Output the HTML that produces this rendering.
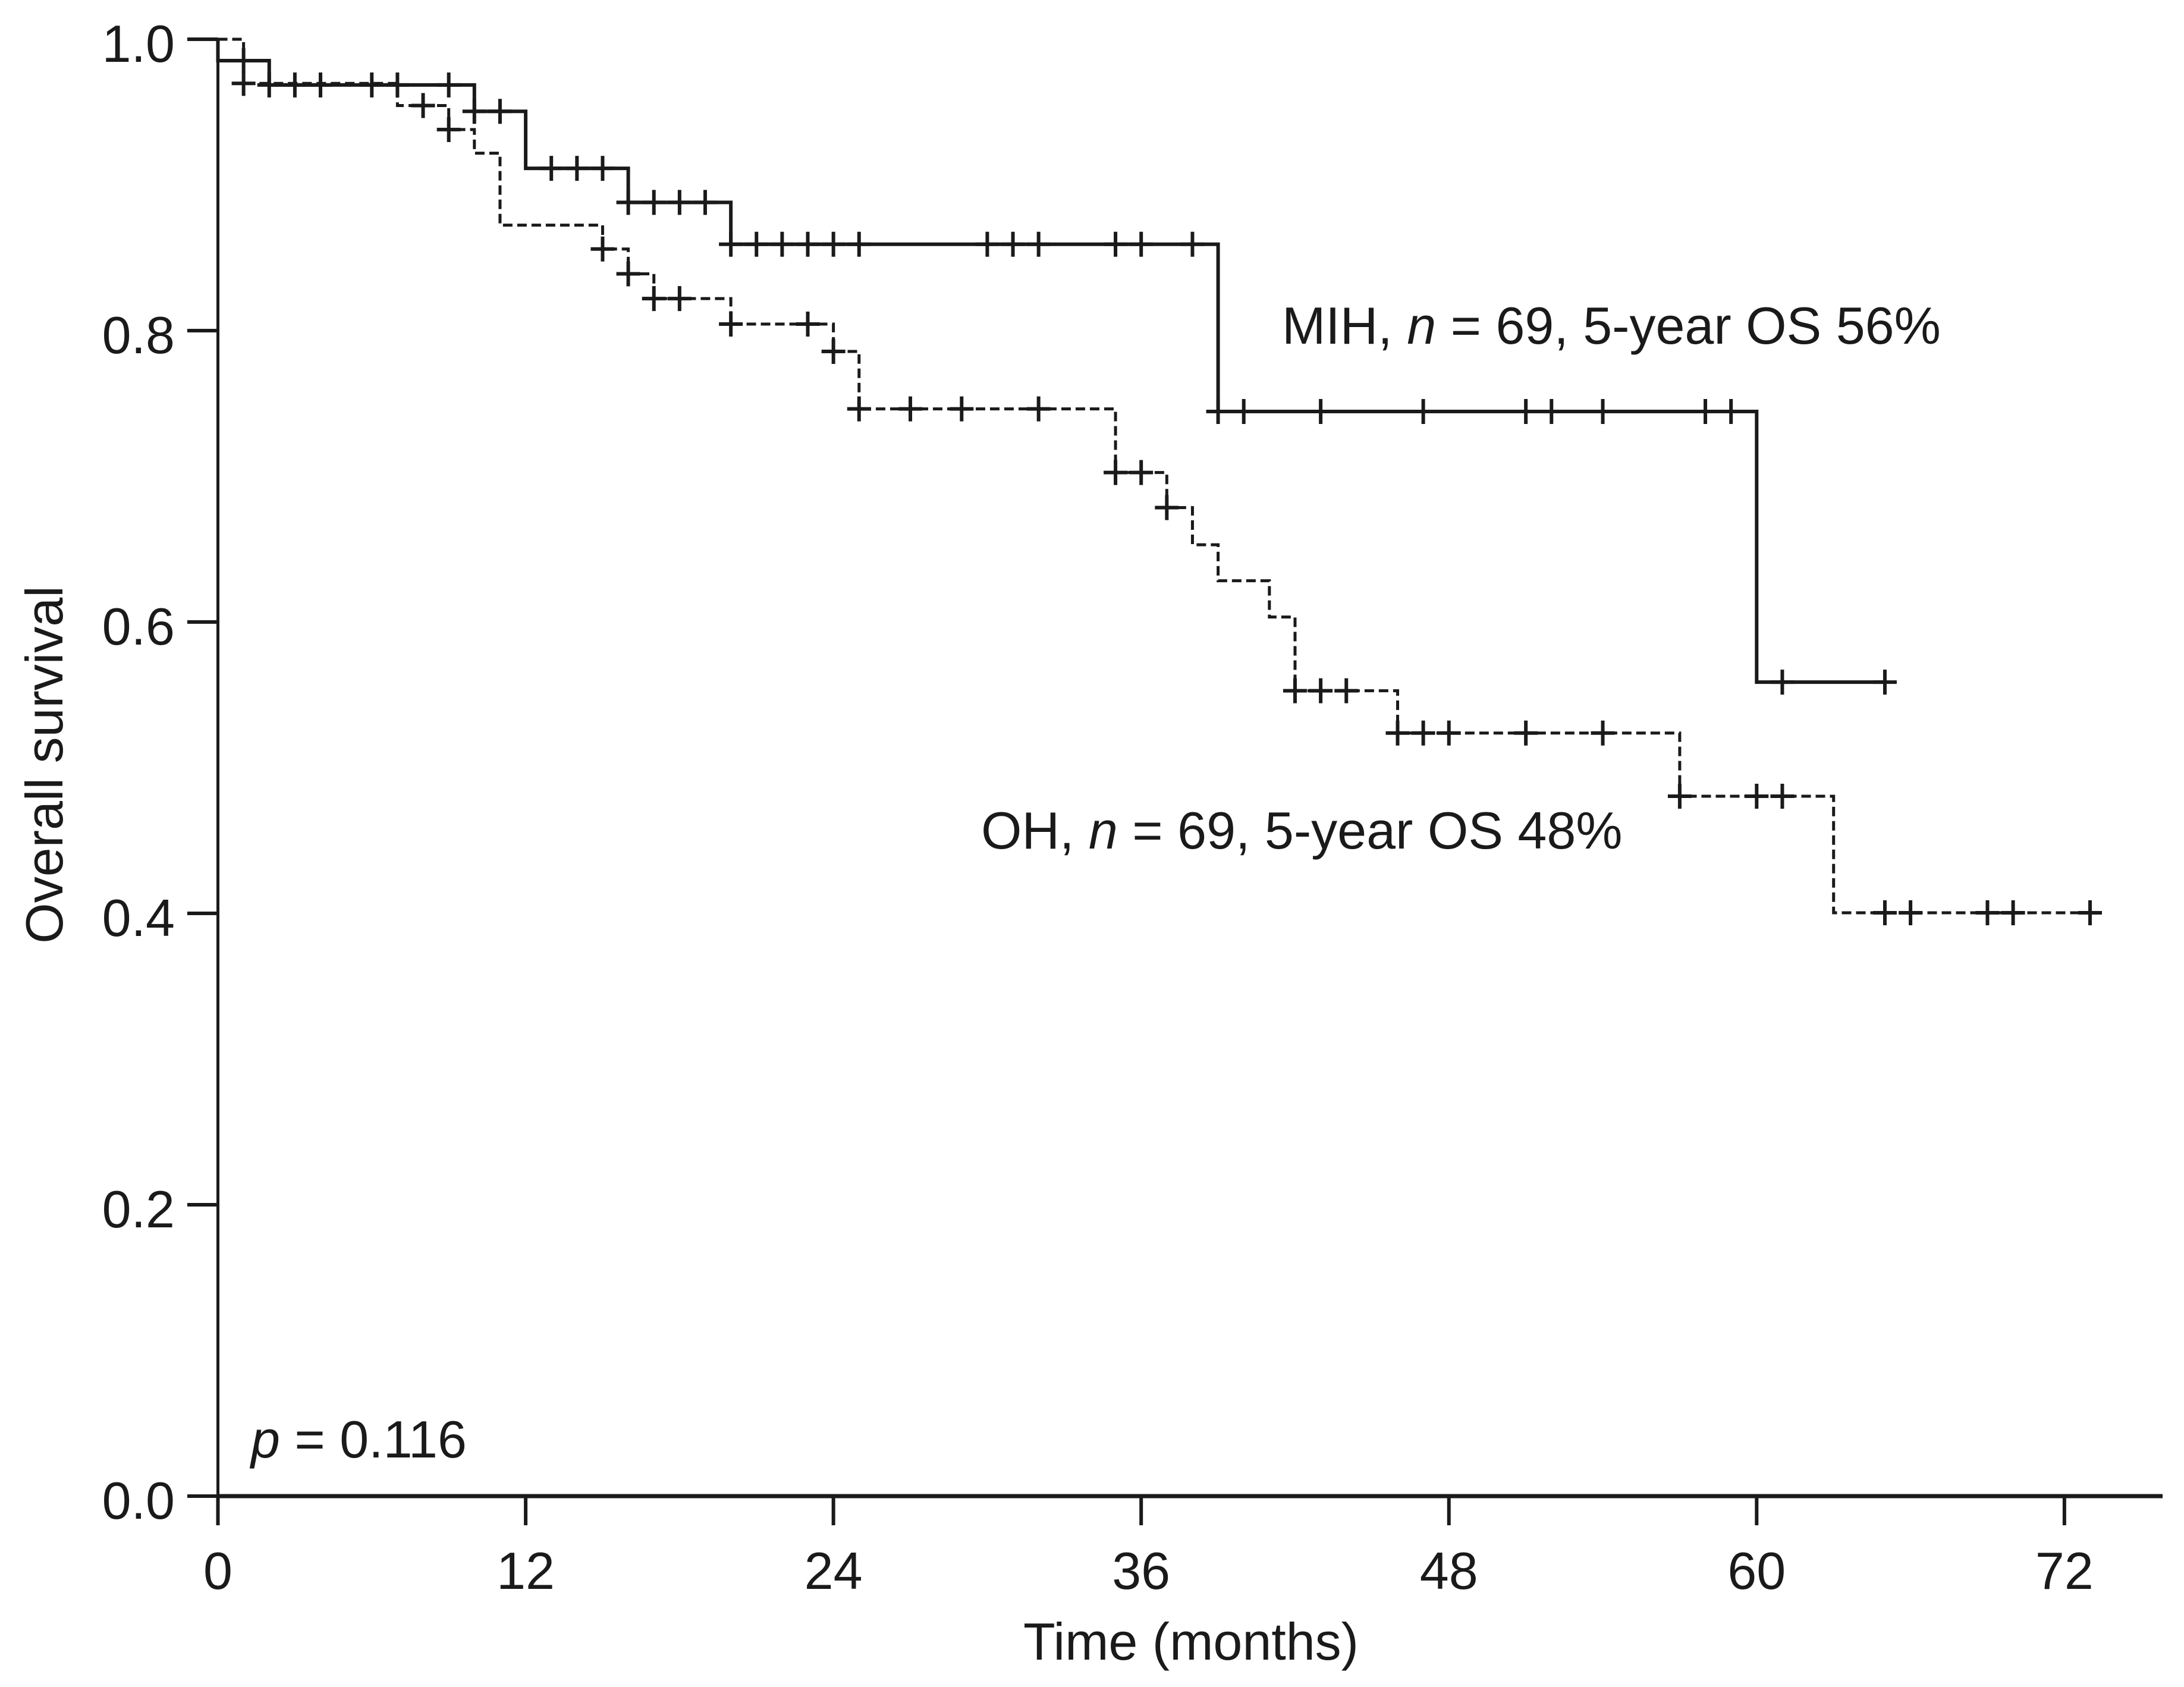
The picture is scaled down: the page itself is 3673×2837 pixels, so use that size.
<!DOCTYPE html>
<html lang="en">
<head>
<meta charset="utf-8">
<title>Overall survival Kaplan-Meier chart</title>
<style>
html,body{margin:0;padding:0;background:#fff;}
svg{display:block;}
text{font-family:"Liberation Sans",sans-serif;font-size:88px;fill:#1a1a1a;}
</style>
</head>
<body>
<svg id="chart" xmlns="http://www.w3.org/2000/svg" width="3673" height="2837" viewBox="0 0 3673 2837">
  <rect width="3673" height="2837" fill="#fff"/>
  <g id="axes"></g>
  <g id="series"></g>
  <text transform="translate(105,1286) rotate(-90)" text-anchor="middle">Overall survival</text>
  <text x="2003" y="2791" text-anchor="middle">Time (months)</text>
  <text x="2156" y="578">MIH, <tspan font-style="italic">n</tspan> = 69, 5-year OS 56%</text>
  <text x="1650" y="1427">OH, <tspan font-style="italic">n</tspan> = 69, 5-year OS 48%</text>
  <text x="422" y="2451"><tspan font-style="italic">p</tspan> = 0.116</text>
</svg>
<script>
var xTicks = [0, 12, 24, 36, 48, 60, 72];
var yTicks = [0, 0.2, 0.4, 0.6, 0.8, 1];
var yTickLabels = ['0.0', '0.2', '0.4', '0.6', '0.8', '1.0'];

var mihTimes = [0, 0, 2, 10, 12, 16, 20, 39, 60];
var mihSurvival = [1, 0.9853, 0.9686, 0.9505, 0.9114, 0.888, 0.8593, 0.7445, 0.5587];
var mihCensored = [1, 2, 3, 4, 6, 7, 9, 10, 11, 13, 14, 15, 16, 17, 18, 19, 20, 21, 22, 23, 24, 25, 30, 31, 32, 35, 36, 38, 39, 40, 43, 47, 51, 52, 54, 58, 59, 61, 65];

var ohTimes = [0, 1, 7, 9, 10, 11, 15, 16, 17, 20, 24, 25, 35, 37, 38, 39, 41, 42, 46, 57, 63];
var ohSurvival = [1, 0.9697, 0.9545, 0.938, 0.9218, 0.8724, 0.856, 0.839, 0.822, 0.8045, 0.7857, 0.7463, 0.7026, 0.6785, 0.653, 0.6283, 0.6034, 0.5528, 0.5238, 0.4804, 0.4004];
var ohCensored = [1, 8, 9, 15, 16, 17, 18, 20, 23, 24, 25, 27, 29, 32, 35, 36, 37, 42, 43, 44, 46, 47, 48, 51, 54, 57, 60, 61, 65, 66, 69, 70, 73];

var NS = 'http://www.w3.org/2000/svg';
var INK = '#1a1a1a';
function xScale(m) { return 366.5 + m * 43.13; }
function yScale(v) { return 2516 - v * 2450; }

function line(parent, x1, y1, x2, y2, w) {
  var el = document.createElementNS(NS, 'line');
  el.setAttribute('x1', x1);
  el.setAttribute('y1', y1);
  el.setAttribute('x2', x2);
  el.setAttribute('y2', y2);
  el.setAttribute('stroke', INK);
  el.setAttribute('stroke-width', w);
  parent.appendChild(el);
  return el;
}

function levelAt(times, levels, m) {
  var value = levels[0];
  for (var i = 0; i < times.length; i++) {
    if (times[i] <= m) value = levels[i];
  }
  return value;
}

function drawSeries(name, times, levels, censored, dash, width) {
  var group = document.getElementById('series');
  var d = 'M' + xScale(times[0]) + ' ' + yScale(levels[0]);
  for (var i = 1; i < times.length; i++) {
    d += 'H' + xScale(times[i]) + 'V' + yScale(levels[i]);
  }
  d += 'H' + xScale(censored[censored.length - 1]);
  var path = document.createElementNS(NS, 'path');
  
  
  path.setAttribute('d', d);
  path.setAttribute('fill', 'none');
  path.setAttribute('stroke', INK);
  path.setAttribute('stroke-width', width);
  if (dash) path.setAttribute('stroke-dasharray', dash);
  group.appendChild(path);
  censored.forEach(function (m) {
    var cx = xScale(m);
    var cy = yScale(levelAt(times, levels, m));
    var mark = document.createElementNS(NS, 'g');
    
    
    line(mark, cx - 20, cy, cx + 20, cy, 6);
    line(mark, cx, cy - 21, cx, cy + 21, 6);
    group.appendChild(mark);
  });
}

function drawAxes() {
  var axes = document.getElementById('axes');
  var yAxis = line(axes, xScale(0), yScale(1), xScale(0), yScale(0), 5);
  
  
  var xAxis = line(axes, xScale(0), yScale(0), 3637, yScale(0), 7);
  
  
  yTicks.forEach(function (v, i) {
    var tick = line(axes, 315, yScale(v), xScale(0), yScale(v), 6);
    
    
    var label = document.createElementNS(NS, 'text');
    
    
    label.setAttribute('x', 294);
    label.setAttribute('y', yScale(v) + 38);
    label.setAttribute('text-anchor', 'end');
    label.textContent = yTickLabels[i];
    axes.appendChild(label);
  });
  xTicks.forEach(function (m) {
    var tick = line(axes, xScale(m), yScale(0), xScale(m), 2565, 6);
    
    
    var label = document.createElementNS(NS, 'text');
    
    
    label.setAttribute('x', xScale(m));
    label.setAttribute('y', 2672);
    label.setAttribute('text-anchor', 'middle');
    label.textContent = String(m);
    axes.appendChild(label);
  });
}

drawAxes();
drawSeries('oh', ohTimes, ohSurvival, ohCensored, '16 8', 5);
drawSeries('mih', mihTimes, mihSurvival, mihCensored, null, 6);
</script>
</body>
</html>
